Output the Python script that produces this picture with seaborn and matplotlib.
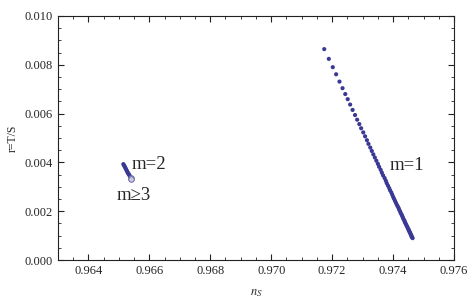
import seaborn as sns
import pandas as pd
import matplotlib.pyplot as plt
from matplotlib.ticker import MultipleLocator

# m=1 branch
r_m1 = [0.00864, 0.00824, 0.00790, 0.00761, 0.00731, 0.00704, 0.00680, 0.00659,
        0.00637, 0.00615, 0.00594, 0.00575, 0.00557, 0.00540, 0.00523, 0.00507,
        0.00491, 0.00476, 0.00461, 0.00447, 0.00433, 0.00420, 0.00407, 0.00394,
        0.00382, 0.00370, 0.00358, 0.00347, 0.00336, 0.00325, 0.00315, 0.00305,
        0.00295, 0.00286, 0.00277, 0.00268, 0.00259, 0.00251, 0.00243, 0.00235,
        0.00227, 0.00220, 0.00213, 0.00206, 0.00199, 0.00192, 0.00186, 0.00180,
        0.00174, 0.00168, 0.00162, 0.00157, 0.00152, 0.00147, 0.00142, 0.00137,
        0.00132, 0.00127, 0.00123, 0.00119, 0.00115, 0.00111, 0.00107, 0.00103,
        0.00099, 0.00096, 0.00093, 0.00090]
ns_m1 = [0.97174, 0.97189, 0.97202, 0.97213, 0.97224, 0.97234, 0.97243, 0.97251,
         0.97259, 0.97267, 0.97275, 0.97282, 0.97289, 0.97295, 0.97302, 0.97308,
         0.97314, 0.97319, 0.97325, 0.97330, 0.97335, 0.97340, 0.97345, 0.97350,
         0.97354, 0.97359, 0.97363, 0.97367, 0.97372, 0.97376, 0.97379, 0.97383,
         0.97387, 0.97390, 0.97394, 0.97397, 0.97400, 0.97403, 0.97406, 0.97409,
         0.97412, 0.97415, 0.97418, 0.97420, 0.97423, 0.97425, 0.97428, 0.97430,
         0.97432, 0.97434, 0.97437, 0.97438, 0.97440, 0.97442, 0.97444, 0.97446,
         0.97448, 0.97450, 0.97451, 0.97453, 0.97454, 0.97456, 0.97457, 0.97459,
         0.97460, 0.97461, 0.97462, 0.97464]

# m=2 branch
ns_m2 = [0.96515, 0.96517, 0.96519, 0.96521, 0.96523, 0.96525, 0.96527, 0.96529,
         0.96531, 0.96533, 0.96535, 0.96537, 0.96539]
r_m2 = [0.00393, 0.00388, 0.00384, 0.00379, 0.00374, 0.00369, 0.00364, 0.00359,
        0.00355, 0.00351, 0.00347, 0.00343, 0.00339]

# m>=3
ns_m3 = [0.96540, 0.96541]
r_m3 = [0.00336, 0.00334]

df = pd.DataFrame({
    "ns": ns_m1 + ns_m2,
    "r": r_m1 + r_m2,
    "m": ["m=1"] * len(ns_m1) + ["m=2"] * len(ns_m2),
})

sns.set_style("ticks")
plt.rcParams["font.family"] = ["Liberation Serif", "DejaVu Serif"]
plt.rcParams["mathtext.fontset"] = "stix"

fig, ax = plt.subplots(figsize=(4.74, 3.06), dpi=100)
fig.subplots_adjust(left=0.122, right=0.958, bottom=0.150, top=0.948)

blue = "#3a3a96"
sns.scatterplot(data=df, x="ns", y="r", hue="m", palette=[blue, blue],
                s=9, edgecolor="none", legend=False, ax=ax)
ax.scatter(ns_m3, r_m3, s=16, facecolor="#c8c8e0", edgecolor="#6a6aa8",
           linewidth=0.7, zorder=3)

ax.set_xlim(0.963, 0.976)
ax.set_ylim(0.0, 0.010)
ax.xaxis.set_major_locator(MultipleLocator(0.002))
ax.xaxis.set_minor_locator(MultipleLocator(0.0005))
ax.yaxis.set_major_locator(MultipleLocator(0.002))
ax.yaxis.set_minor_locator(MultipleLocator(0.0005))
ax.xaxis.set_major_formatter(plt.FormatStrFormatter("%.3f"))
ax.yaxis.set_major_formatter(plt.FormatStrFormatter("%.3f"))
ax.tick_params(which="both", direction="in", top=True, right=True,
               labelsize=9, color="#222222")
ax.tick_params(which="major", length=4)
ax.tick_params(which="minor", length=2)
for sp in ax.spines.values():
    sp.set_linewidth(0.8)
    sp.set_color("#222222")

ax.set_xlabel(r"$n_S$", fontsize=9, labelpad=7)
ax.set_ylabel("r=T/S", fontsize=8.5, labelpad=4)

ax.text(0.97387, 0.00389, "m=1", fontsize=13.5, va="center", ha="left")
ax.text(0.96541, 0.00393, "m=2", fontsize=13.5, va="center", ha="left")
ax.text(0.96492, 0.00266, "m\u22653", fontsize=13.5, va="center", ha="left")

fig.savefig("out.png", dpi=100)
